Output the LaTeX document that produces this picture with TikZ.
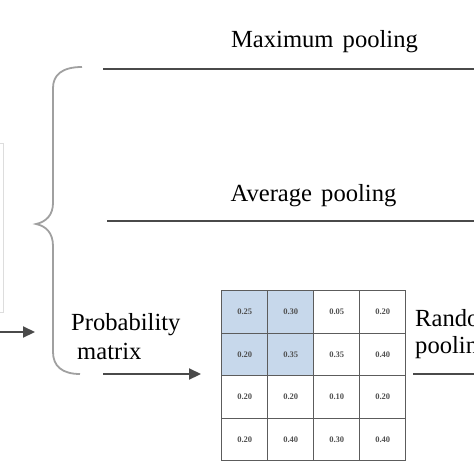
\documentclass[tikz,border=0pt]{standalone}
\usepackage{fontspec}
\setmainfont{Liberation Serif}
\usetikzlibrary{arrows.meta}
\definecolor{linegray}{HTML}{4A4A4A}
\definecolor{bracegray}{HTML}{A0A0A0}
\definecolor{cellblue}{HTML}{C7D8EB}
\definecolor{numgray}{HTML}{505050}
\definecolor{boxgray}{HTML}{DDDDDD}
\tikzset{
  lbl/.style={inner sep=0pt, font=\fontsize{24.6}{28}\selectfont, anchor=base},
  lblw/.style={lbl, anchor=base west},
  rule/.style={draw=linegray, line width=2.2pt},
  arr/.style={draw=linegray, line width=2.2pt, -{Triangle[length=12pt,width=11pt]}},
  brace/.style={draw=bracegray, line width=1.8pt},
  cell/.style={draw=linegray!90, line width=1.4pt, minimum width=46pt, minimum height=42.5pt, inner sep=0pt,
    font=\fontsize{8.5}{9}\selectfont\bfseries, text=numgray, anchor=north west},
  bcell/.style={cell, fill=cellblue}
}
\begin{document}
\begin{tikzpicture}[x=1pt,y=-1pt]
\useasboundingbox (0,0) rectangle (474,474);
\clip (0,0) rectangle (474,474);
% faint box edge at far left
\draw[boxgray, line width=1pt] (-20,143) -- (3,143) -- (3,312) -- (-20,312);
% labels
\node[lbl] (maxp) at (324.5,47) {Maximum\hspace{0.12em} pooling};
\node[lbl] (avgp) at (313.5,201) {Average\hspace{0.12em} pooling};
\node[lblw] (prob) at (71,330) {Probability};
\node[lblw] (matx) at (77,359) {matrix};
\node[lblw] (rand) at (415,326) {Random};
\node[lblw] (rpool) at (415,353) {pooling};
% rules
\coordinate (m1) at (103,69); \coordinate (m2) at (480,69);
\coordinate (a1) at (107,221); \coordinate (a2) at (480,221);
\coordinate (r1) at (413,374); \coordinate (r2) at (480,374);
\draw[rule] (m1) -- (m2);
\draw[rule] (a1) -- (a2);
\draw[rule] (r1) -- (r2);
% brace
\draw[brace] (82,67) .. controls (62,67) and (53,75) .. (53,88) -- (53,203)
  .. controls (53,215) and (46,222) .. (36,224)
  .. controls (46,226) and (53,233) .. (53,246) -- (53,352)
  .. controls (53,366) and (62,374) .. (80,374);
% grid
\node[bcell] (c11) at (221,290) {0.25};
\node[bcell] (c12) at (267,290) {0.30};
\node[cell] (c13) at (313,290) {0.05};
\node[cell] (c14) at (359,290) {0.20};
\node[bcell] (c21) at (221,332.5) {0.20};
\node[bcell] (c22) at (267,332.5) {0.35};
\node[cell] (c23) at (313,332.5) {0.35};
\node[cell] (c24) at (359,332.5) {0.40};
\node[cell] (c31) at (221,375) {0.20};
\node[cell] (c32) at (267,375) {0.20};
\node[cell] (c33) at (313,375) {0.10};
\node[cell] (c34) at (359,375) {0.20};
\node[cell] (c41) at (221,417.5) {0.20};
\node[cell] (c42) at (267,417.5) {0.40};
\node[cell] (c43) at (313,417.5) {0.30};
\node[cell] (c44) at (359,417.5) {0.40};
% arrows
\coordinate (inL) at (0,332); \coordinate (inR) at (35,332);
\draw[arr] (inL) -- (inR);
\coordinate (pa1) at (103,374); \coordinate (pa2) at (201,374);
\draw[arr] (pa1) -- (pa2);
\end{tikzpicture}
\end{document}
